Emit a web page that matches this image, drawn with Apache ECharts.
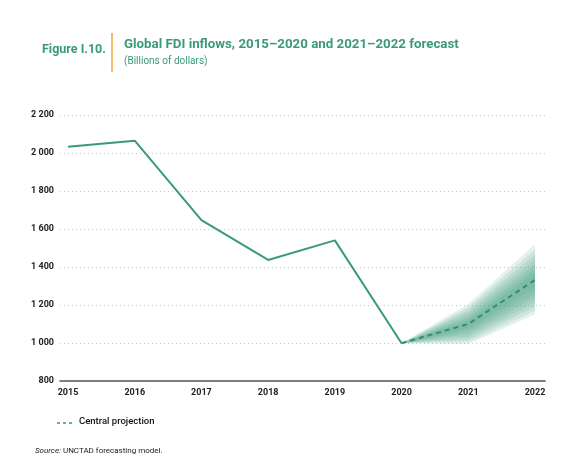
<!DOCTYPE html>
<html>
<head>
<meta charset="utf-8">
<script src="https://cdn.jsdelivr.net/npm/echarts@6/dist/echarts.min.js"></script>
<style>
  html, body { margin: 0; padding: 0; background: #fff; }
  #main { width: 575px; height: 472px; }
</style>
</head>
<body>
<div id="main"></div>
<script>
// 历年数据 (十亿美元)
var years = [2015, 2016, 2017, 2018, 2019, 2020];
var inflows = [2033, 2065, 1647, 1437, 1540, 999];

// 预测
var forecastYears = [2020, 2021, 2022];
var central = [999, 1100, 1332];

// 扇形区间, 从外到内
var bandLow = [
  [999, 995, 1150],
  [999, 1005, 1170],
  [999, 1018, 1192],
  [999, 1032, 1215],
  [999, 1046, 1238],
  [999, 1060, 1262],
  [999, 1075, 1290]
];
var bandHigh = [
  [999, 1205, 1520],
  [999, 1190, 1492],
  [999, 1175, 1465],
  [999, 1160, 1440],
  [999, 1145, 1415],
  [999, 1132, 1392],
  [999, 1118, 1368]
];

var yTicks = [800, 1000, 1200, 1400, 1600, 1800, 2000, 2200];

var green = '#3a9a78';
var font = 'Roboto, sans-serif';

var myChart = echarts.init(document.getElementById('main'));

function pairs(xs, ys) {
  return xs.map(function (x, i) { return [x, ys[i]]; });
}

myChart.setOption({
  animation: false,
  title: {
    text: 'Global FDI inflows, 2015\u20132020 and 2021\u20132022 forecast',
    subtext: '(Billions of dollars)',
    left: 119,
    top: 33,
    itemGap: 5,
    textStyle: { fontFamily: font, fontSize: 13.3, fontWeight: 'bold', color: green },
    subtextStyle: { fontFamily: font, fontSize: 10, color: green }
  },
  grid: { left: 60, right: 30, top: 115, bottom: 91 },
  xAxis: {
    type: 'value',
    min: 2014.88,
    max: 2022.15,
    axisLine: { lineStyle: { color: '#555', width: 1.5 } },
    axisTick: { show: false },
    splitLine: { show: false },
    axisLabel: {
      customValues: years.concat([2021, 2022]),
      fontFamily: font, fontSize: 9, fontWeight: 'bold', color: '#222',
      margin: 7,
      formatter: function (v) { return String(v); }
    }
  },
  yAxis: {
    type: 'value',
    min: 800,
    max: 2200,
    interval: 200,
    axisLine: { show: false },
    axisTick: { show: false },
    splitLine: { lineStyle: { color: '#c8c8c8', type: [1, 3], width: 1 } },
    axisLabel: {
      fontFamily: font, fontSize: 9, fontWeight: 'bold', color: '#222', margin: 6,
      formatter: function (v) {
        return yTicks.indexOf(v) < 0 ? '' : String(v).replace(/\B(?=(\d{3})+(?!\d))/g, ' ');
      }
    }
  },
  graphic: [
    { type: 'text', left: 42, top: 43,
      style: { text: 'Figure I.10.', fill: green, font: 'bold 12.5px ' + font } },
    { type: 'line', shape: { x1: 112, y1: 33, x2: 112, y2: 72 },
      style: { stroke: '#f2a33a', lineWidth: 1.5 } },
    { type: 'line', shape: { x1: 57, y1: 423, x2: 75, y2: 423 },
      style: { stroke: green, lineWidth: 1.5, lineDash: [3, 3] } },
    { type: 'text', left: 79, top: 417,
      style: { text: 'Central projection', fill: '#111', font: '500 9.5px ' + font } },
    { type: 'text', left: 35, top: 447,
      style: {
        text: '{i|Source:} UNCTAD forecasting model.',
        fill: '#222', font: '8px ' + font,
        rich: { i: { fontStyle: 'italic', fontSize: 8, fontFamily: font, fill: '#222' } }
      } }
  ],
  series: [
    {
      type: 'custom',
      silent: true,
      data: bandLow.map(function (b, i) { return [i]; }),
      renderItem: function (params, api) {
        var k = api.value(0);
        var pts = [];
        forecastYears.forEach(function (y, j) { pts.push(api.coord([y, bandHigh[k][j]])); });
        for (var j = forecastYears.length - 1; j >= 0; j--) {
          pts.push(api.coord([forecastYears[j], bandLow[k][j]]));
        }
        return {
          type: 'polygon',
          shape: { points: pts },
          style: { fill: 'rgba(46,150,115,0.13)' }
        };
      },
      z: 1
    },
    {
      type: 'line',
      data: pairs(years, inflows),
      showSymbol: false,
      lineStyle: { color: green, width: 2 },
      z: 3
    },
    {
      type: 'line',
      name: 'Central projection',
      data: pairs(forecastYears, central),
      showSymbol: false,
      lineStyle: { color: '#2f8f6e', width: 2, type: [5, 4] },
      z: 4
    }
  ]
});
</script>
</body>
</html>
